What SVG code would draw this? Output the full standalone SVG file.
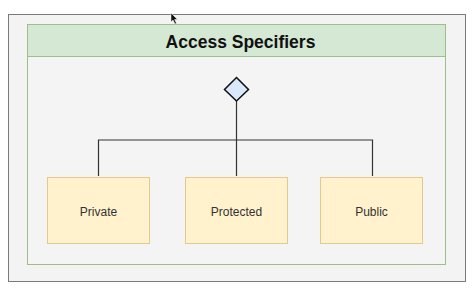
<svg xmlns="http://www.w3.org/2000/svg" width="474" height="291" viewBox="0 0 474 291">
<style>
.frame{fill:#f3f3f3;stroke:#7a7a7a;stroke-width:1}
.cont{fill:#f4f4f4;stroke:#9dc08b;stroke-width:1}
.head{fill:#d5e8d4;stroke:#9dc08b;stroke-width:1}
.box{fill:#fff2cc;stroke:#e3c98a;stroke-width:1}
.dia{fill:#dae8fc;stroke:#111;stroke-width:1.5}
.conn{fill:none;stroke:#333;stroke-width:1.2}
.title{font-family:"Liberation Sans",Arial,sans-serif;font-weight:bold;font-size:17.5px;fill:#111;text-anchor:middle}
.lbl{font-family:"Liberation Sans",Arial,sans-serif;font-size:12px;fill:#333;text-anchor:middle}
</style>
<rect x="0" y="0" width="474" height="291" fill="#ffffff"/>
<rect class="frame" x="8.5" y="14.5" width="457" height="267"/>
<g id="container">
<rect class="cont" x="27.5" y="24.5" width="418" height="240"/>
<rect class="head" x="27.5" y="24.5" width="418" height="32"/>
<text class="title" x="240.5" y="47.5">Access Specifiers</text>
</g>
<g id="connectors">
<path class="conn" d="M236.5 101 V176"/>
<path class="conn" d="M98.5 176 V140 H372.5 V176"/>
</g>
<g id="diamond">
<polygon class="dia" points="236.5,77.5 248.5,89.5 236.5,101 224.5,89.5"/>
</g>
<g id="private">
<rect class="box" x="47.5" y="177.5" width="102" height="66"/>
<text class="lbl" x="98.5" y="216">Private</text>
</g>
<g id="protected">
<rect class="box" x="185.5" y="177.5" width="102" height="66"/>
<text class="lbl" x="236.5" y="216">Protected</text>
</g>
<g id="public">
<rect class="box" x="320.5" y="177.5" width="102" height="66"/>
<text class="lbl" x="371.5" y="216">Public</text>
</g>
<path d="M171 13 L171 22 L173 20 L175 24 L176.5 23.3 L174.6 19.5 L177.5 19.5 Z" fill="#111" stroke="#fff" stroke-width="0.5"/>
</svg>
